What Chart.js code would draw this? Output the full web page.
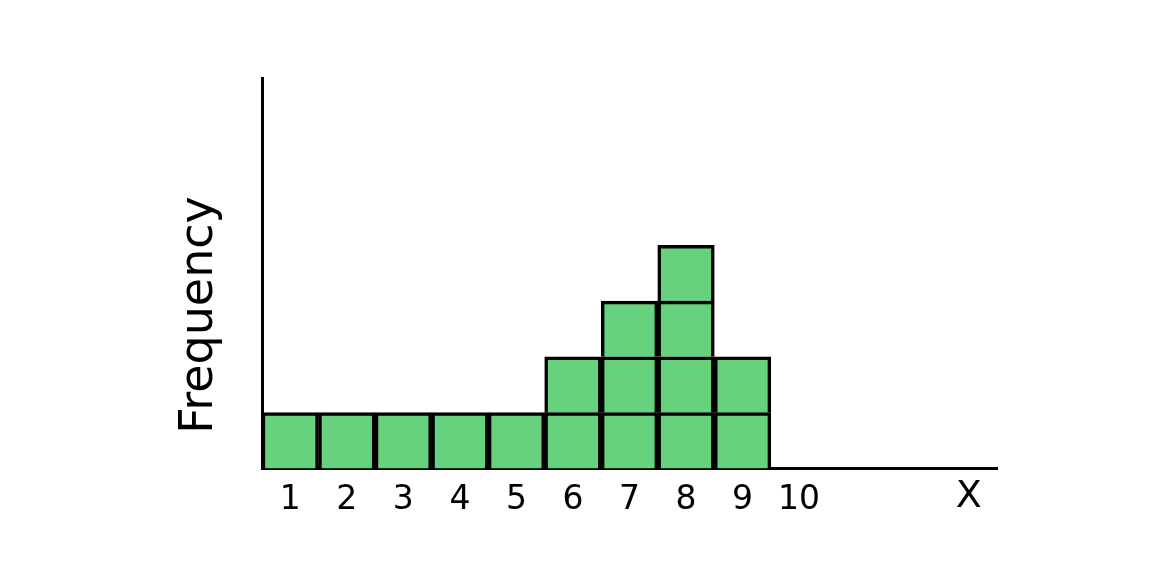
<!DOCTYPE html>
<html>
<head>
<meta charset="utf-8">
<script src="https://cdn.jsdelivr.net/npm/chart.js@4.4.0/dist/chart.umd.min.js"></script>
<style>
  html, body { margin: 0; padding: 0; background: #fff; }
  #wrap { width: 1161px; height: 579px; }
</style>
</head>
<body>
<div id="wrap"><canvas id="hist"></canvas></div>
<script>
// Valores X (categorias) e frequências
const categorias = ['1', '2', '3', '4', '5', '6', '7', '8', '9', '10', '', '', ''];
const frequencias = [1, 1, 1, 1, 1, 2, 3, 4, 2, 0, 0, 0, 0];
const tituloX = 'X';
const tituloY = 'Frequency';

// Cada camada vira um dataset empilhado, para desenhar um quadrado por observação
const maxFreq = Math.max(...frequencias);
const camadas = [];
for (let k = 0; k < maxFreq; k++) {
  camadas.push({
    data: frequencias.map(f => (f > k ? 1 : 0)),
    backgroundColor: '#66d27d',
    borderColor: '#000',
    borderWidth: 3.5,
    barPercentage: 1,
    categoryPercentage: 1,
  });
}

// Desenha os títulos dos eixos à mão (posição livre)
const titulosPlugin = {
  id: 'titulos',
  afterDraw(chart) {
    const { ctx, chartArea, scales } = chart;
    ctx.save();
    ctx.fillStyle = '#000';
    ctx.font = '38px "DejaVu Sans"';
    ctx.textAlign = 'center';
    ctx.textBaseline = 'middle';
    // título do eixo X na ponta direita, na altura dos rótulos
    ctx.fillText(tituloX, scales.x.getPixelForValue(12), scales.x.top + 29);
    // título do eixo Y girado
    ctx.translate(chartArea.left - 62, chartArea.top + 237);
    ctx.rotate(-Math.PI / 2);
    ctx.font = '46px "DejaVu Sans"';
    ctx.fillText(tituloY, 0, 0);
    ctx.restore();
  }
};

const ctx = document.getElementById('hist').getContext('2d');

new Chart(ctx, {
  type: 'bar',
  data: {
    labels: categorias,
    datasets: camadas
  },
  options: {
    responsive: true,
    maintainAspectRatio: false,
    animation: false,
    layout: { padding: { left: 262, right: 164, top: 78, bottom: 47 } },
    plugins: {
      legend: { display: false },
      tooltip: { enabled: false },
    },
    scales: {
      x: {
        stacked: true,
        grid: { display: false, drawTicks: false },
        border: { display: true, color: '#000', width: 3 },
        ticks: { color: '#000', font: { family: 'DejaVu Sans', size: 33 }, padding: 12, maxRotation: 0, autoSkip: false },
      },
      y: {
        stacked: true,
        min: 0,
        max: 7,
        grid: { display: false, drawTicks: false },
        border: { display: true, color: '#000', width: 3 },
        ticks: { display: false },
      }
    }
  },
  plugins: [titulosPlugin]
});
</script>
</body>
</html>
